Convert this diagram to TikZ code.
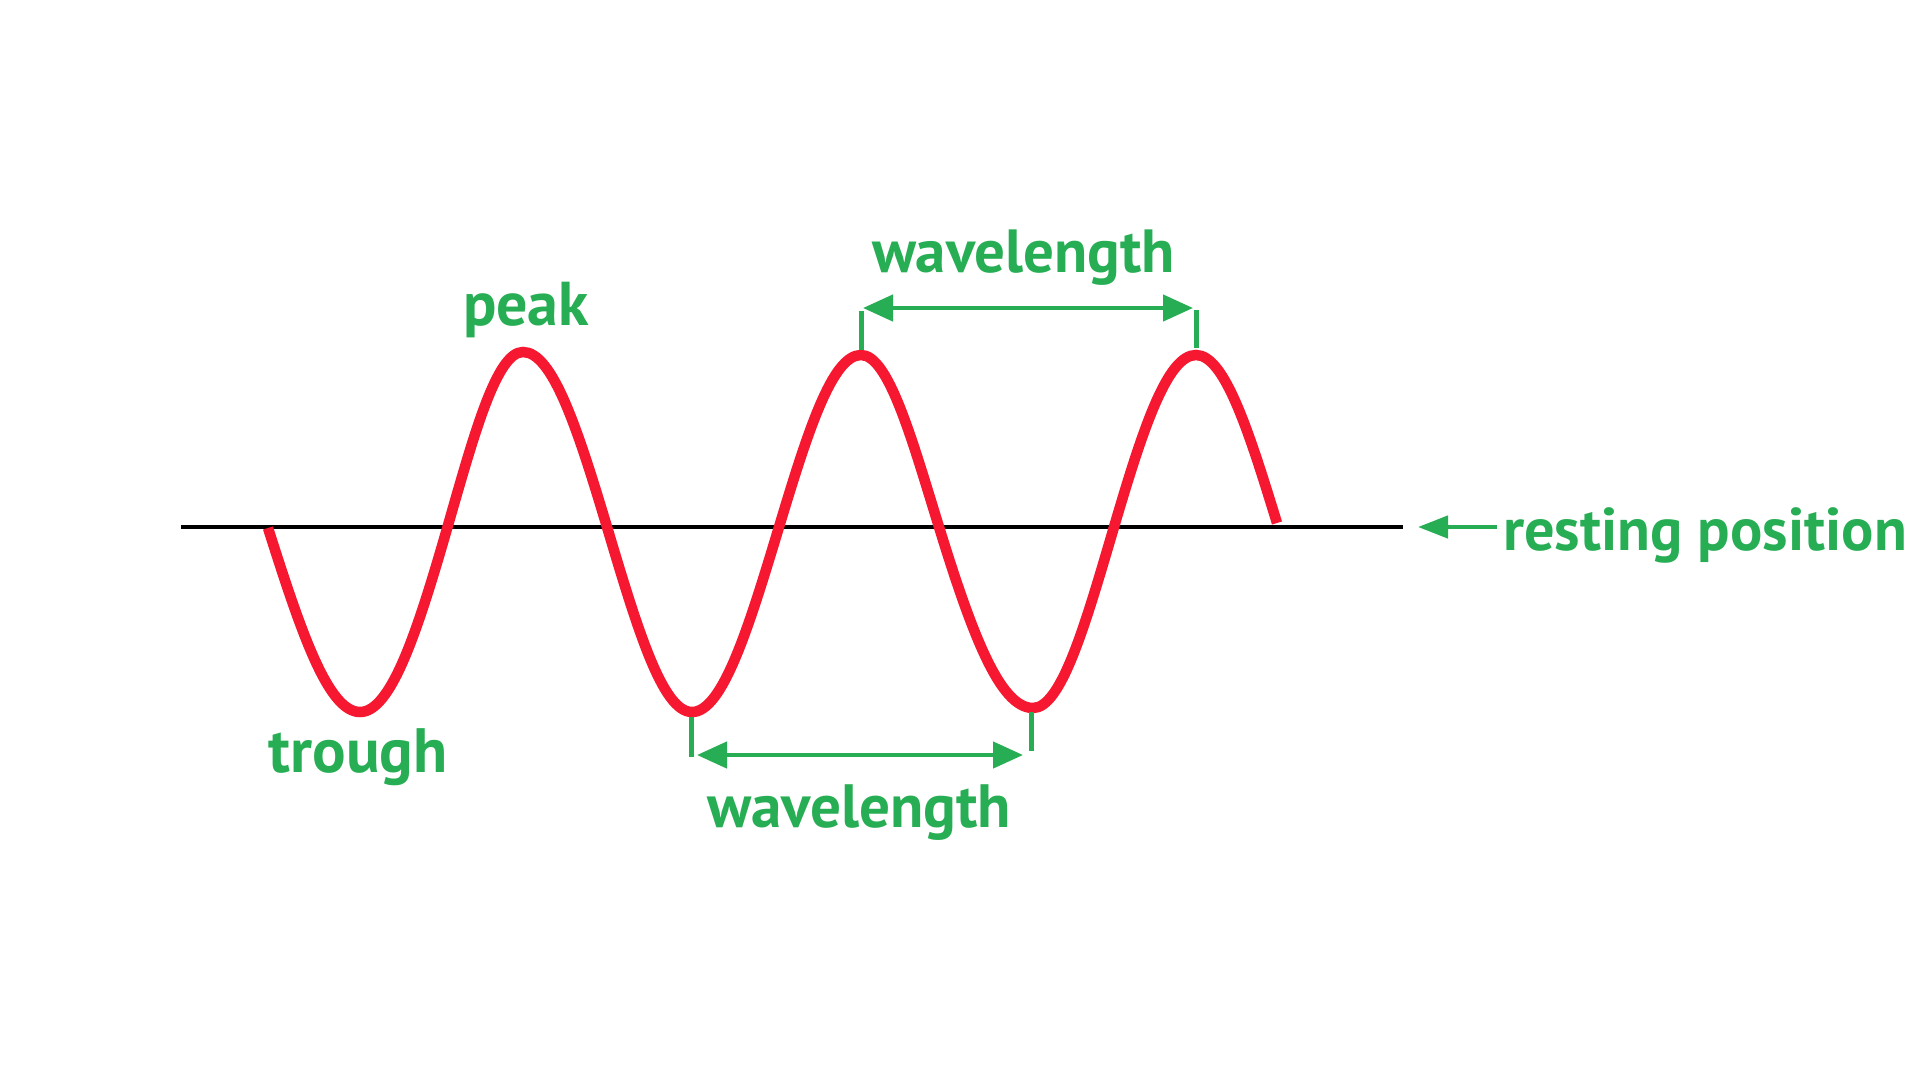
\documentclass[tikz,border=0pt]{standalone}
\usepackage{fontspec}
\setmainfont{PT Sans}
\usetikzlibrary{arrows.meta}
\definecolor{wavered}{RGB}{246,24,48}
\definecolor{labelgreen}{RGB}{39,174,84}
\newlength\fitlen
\newcommand\fittext[2]{\settowidth\fitlen{\fontsize{20pt}{20pt}\selectfont\bfseries #2}%
  \pgfmathsetmacro\fitsize{20*#1/\fitlen}%
  \fontsize{\fitsize pt}{\fitsize pt}\selectfont\bfseries #2}
\tikzset{
  axisline/.style={line width=4pt, black},
  waveline/.style={line width=10.5pt, wavered},
  tickline/.style={line width=5pt, labelgreen},
  dimarrow/.style={line width=4.5pt, labelgreen, {Triangle[length=30pt,width=26pt]}-{Triangle[length=30pt,width=26pt]}},
  restarrow/.style={line width=4.5pt, labelgreen, {Triangle[length=30pt,width=22pt]}-},
  lbl/.style={text=labelgreen, inner sep=0pt, anchor=base}
}
\begin{document}
\begin{tikzpicture}[x=1pt,y=-1pt]
\useasboundingbox (0,0) rectangle (1920,1080);
\fill[white] (0,0) rectangle (1920,1080);
% resting line
\coordinate (axL) at (181,527);
\coordinate (axR) at (1403,527);
\draw[axisline] (axL) -- (axR);
% key points of the wave
\coordinate (K0) at (268,528);
\coordinate (T1) at (360,712);
\coordinate (P1) at (523,352);
\coordinate (T2) at (692,712);
\coordinate (P2) at (861,355);
\coordinate (T3) at (1033,708);
\coordinate (P3) at (1196,355);
\coordinate (K12) at (1277,523);
\draw[waveline] (K0)
  .. controls (300.35,629.6) and (327.65,712) .. (T1)
  .. controls (390.77,712) and (416.73,634.1) .. (447.5,527)
  .. controls (474.05,434.6) and (496.45,352) .. (P1)
  .. controls (552.53,352) and (577.47,428.2) .. (607,527)
  .. controls (636.89,627.0) and (662.11,712) .. (T2)
  .. controls (722.59,712) and (748.41,628.5) .. (779,527)
  .. controls (807.83,431.3) and (832.17,355) .. (P2)
  .. controls (888.42,355) and (911.58,438.0) .. (939,527)
  .. controls (972.05,634.2) and (999.95,708) .. (T3)
  .. controls (1061.48,708) and (1085.52,623.9) .. (1114,527)
  .. controls (1142.83,428.9) and (1167.17,355) .. (P3)
  .. controls (1224.48,355) and (1248.52,430.2) .. (K12);
% top wavelength
\coordinate (tkA1) at (861,350);
\coordinate (tkA2) at (861,311);
\coordinate (tkB1) at (1196,348);
\coordinate (tkB2) at (1196,310);
\draw[tickline] (tkA1) -- (tkA2);
\draw[tickline] (tkB1) -- (tkB2);
\coordinate (daL) at (863,308);
\coordinate (daR) at (1193,308);
\draw[dimarrow] (daL) -- (daR);
% bottom wavelength
\coordinate (tkC1) at (691,717);
\coordinate (tkC2) at (691,757);
\coordinate (tkD1) at (1031,712);
\coordinate (tkD2) at (1031,751);
\draw[tickline] (tkC1) -- (tkC2);
\draw[tickline] (tkD1) -- (tkD2);
\coordinate (dbL) at (697,755);
\coordinate (dbR) at (1023,755);
\draw[dimarrow] (dbL) -- (dbR);
% resting position arrow
\coordinate (raTip) at (1418,527);
\coordinate (raEnd) at (1497,527);
\draw[restarrow] (raTip) -- (raEnd);
% labels
\node[lbl] (peak) at (526,325) {\fittext{126}{peak}};
\node[lbl] (trough) at (358,772) {\fittext{179}{trough}};
\node[lbl] (wlTop) at (1023.5,272) {\fittext{303}{wavelength}};
\node[lbl] (wlBot) at (859,827) {\fittext{304}{wavelength}};
\node[lbl] (rest) at (1705,550) {\fittext{404}{resting position}};
\end{tikzpicture}
\end{document}
